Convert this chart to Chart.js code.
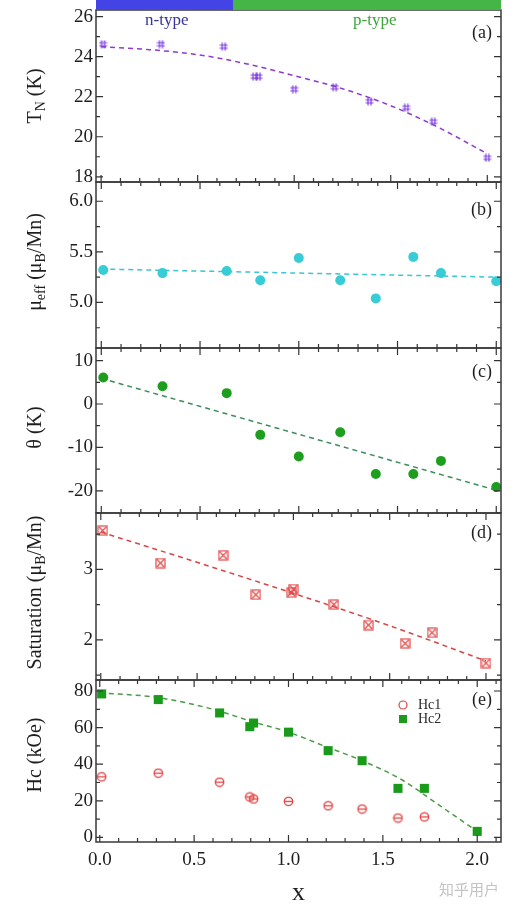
<!DOCTYPE html>
<html>
<head>
<meta charset="utf-8">
<script src="https://cdn.jsdelivr.net/npm/chart.js@4/dist/chart.umd.min.js"></script>
<style>
  html,body{margin:0;padding:0;background:#fff;}
  #wrap{position:relative;width:515px;height:906px;overflow:hidden;background:#fff;}
  #wrap canvas{position:absolute;left:0;top:0;}
  .bar{position:absolute;top:0;height:10px;}
  .lbl{position:absolute;font-family:"Liberation Serif",serif;font-size:17px;line-height:17px;white-space:nowrap;}
  .wm{position:absolute;font-family:"Noto Sans CJK SC",sans-serif;font-size:15px;line-height:18px;color:#c4c4c4;white-space:nowrap;}
</style>
</head>
<body>
<div id="wrap">
  <canvas id="ca" width="515" height="906"></canvas>
  <canvas id="cb" width="515" height="906"></canvas>
  <canvas id="cc" width="515" height="906"></canvas>
  <canvas id="cd" width="515" height="906"></canvas>
  <canvas id="ce" width="515" height="906"></canvas>
  <div class="bar" style="left:96px;width:137px;background:#4343e6;"></div>
  <div class="bar" style="left:233px;width:268px;background:#45b545;"></div>
  <div class="lbl" style="left:145px;top:11px;color:#35359e;">n-type</div>
  <div class="lbl" style="left:353px;top:11px;color:#3ba53b;">p-type</div>
  <div class="wm" style="left:439px;top:880px;">知乎用户</div>
</div>
<script>
// ---------------- data ----------------
// (a) Neel temperature
const xA   = [0.01, 0.31, 0.635, 0.795, 0.815, 1.0, 1.21, 1.39, 1.58, 1.72, 2.0];
const tN   = [24.62, 24.62, 24.5, 23.0, 23.0, 22.37, 22.47, 21.77, 21.45, 20.75, 18.95];
const fitAx = [0, 0.25, 0.5, 0.75, 1.0, 1.25, 1.5, 1.75, 2.0];
const fitAy = [24.5, 24.35, 24.1, 23.65, 23.05, 22.4, 21.55, 20.45, 19.15];
// (b) effective moment
const xB   = [0.01, 0.31, 0.635, 0.805, 1.0, 1.21, 1.39, 1.58, 1.72, 2.0];
const muEff = [5.32, 5.29, 5.31, 5.22, 5.44, 5.22, 5.04, 5.45, 5.29, 5.21];
const fitBx = [0, 2.0];
const fitBy = [5.33, 5.25];
// (c) Weiss temperature
const xC   = [0.01, 0.31, 0.635, 0.805, 1.0, 1.21, 1.39, 1.58, 1.72, 2.0];
const theta = [6.1, 4.1, 2.5, -7.1, -12.1, -6.5, -16.1, -16.1, -13.1, -19.1];
const fitCx = [0, 2.0];
const fitCy = [5.9, -19.85];
// (d) saturation moment
const xD   = [0.01, 0.31, 0.635, 0.805, 0.99, 1.0, 1.21, 1.39, 1.58, 1.72, 2.0];
const sat  = [3.55, 3.09, 3.2, 2.64, 2.67, 2.72, 2.5, 2.21, 1.95, 2.1, 1.67];
const fitDx = [0, 0.5, 1.0, 1.5, 2.0];
const fitDy = [3.53, 3.1, 2.66, 2.2, 1.70];
// (e) critical fields
const xE   = [0.01, 0.31, 0.635, 0.795, 0.815, 1.0, 1.21, 1.39, 1.58, 1.72, 2.0];
const hc1  = [33.1, 35.1, 30.2, 22.1, 21.0, 19.7, 17.3, 15.5, 10.6, 11.2, null];
const hc2  = [78.4, 75.3, 68.0, 60.5, 62.5, 57.5, 47.4, 41.9, 26.8, 26.8, 3.3];
const fitEx = [0, 0.3, 0.6, 0.8, 1.0, 1.2, 1.4, 1.6, 1.8, 2.0];
const fitEy = [79, 76.5, 70, 63.5, 57.5, 49.5, 41.5, 31.5, 17.5, 3.3];
const seriesNames = ['Hc1', 'Hc2'];
const panelLabels = ['(a)', '(b)', '(c)', '(d)', '(e)'];
const xTitle = 'x';

// ---------------- helpers ----------------
const SERIF = '"Liberation Serif", "Times New Roman", serif';
function pts(xs, ys){ const o=[]; for(let i=0;i<xs.length;i++){ if(ys[i]!==null) o.push({x:xs[i], y:ys[i]}); } return o; }

function mk(w,h,draw){ const c=document.createElement('canvas'); c.width=w; c.height=h; draw(c.getContext('2d')); return c; }
const hashMark = mk(9,9,g=>{ g.strokeStyle='#7a3ae0'; g.lineWidth=1.2; g.beginPath();
  g.moveTo(3,0.5);g.lineTo(3,8.5); g.moveTo(6,0.5);g.lineTo(6,8.5);
  g.moveTo(0.5,3);g.lineTo(8.5,3); g.moveTo(0.5,6);g.lineTo(8.5,6); g.stroke(); });
const boxX = mk(11,11,g=>{ g.strokeStyle='#e04a4a'; g.lineWidth=1.2; g.strokeRect(1,1,9,9);
  g.beginPath(); g.moveTo(2,2);g.lineTo(9,9); g.moveTo(9,2);g.lineTo(2,9); g.stroke(); });
const circBar = mk(11,11,g=>{ g.strokeStyle='#e04040'; g.lineWidth=1.3; g.beginPath(); g.arc(5.5,5.5,4.2,0,Math.PI*2); g.stroke();
  g.beginPath(); g.moveTo(1.5,5.5); g.lineTo(9.5,5.5); g.stroke(); });

function drawRich(ctx, parts, cx, cy, size){
  ctx.save();
  ctx.translate(cx, cy); ctx.rotate(-Math.PI/2);
  ctx.fillStyle = '#1e1e1e'; ctx.textBaseline = 'middle'; ctx.textAlign='left';
  let total = 0;
  parts.forEach(p=>{ ctx.font = (p.sub? Math.round(size*0.68): size) + 'px ' + SERIF; total += ctx.measureText(p.t).width; });
  let x = -total/2;
  parts.forEach(p=>{ const s = p.sub? Math.round(size*0.68): size; ctx.font = s + 'px ' + SERIF;
    ctx.fillText(p.t, x, p.sub ? size*0.28 : 0); x += ctx.measureText(p.t).width; });
  ctx.restore();
}

const panelPlugin = {
  id: 'panel',
  afterDraw(chart, args, o){
    const ctx = chart.ctx, a = chart.chartArea, xs = chart.scales.x, ys = chart.scales.y;
    ctx.save();
    ctx.strokeStyle = '#333'; ctx.lineWidth = 1.2;
    function marks(scale, major, minor, fn){
      const k0 = Math.ceil(scale.min/minor - 1e-6), k1 = Math.floor(scale.max/minor + 1e-6);
      for(let k=k0;k<=k1;k++){ const v=k*minor; const isMaj = Math.abs(v/major - Math.round(v/major)) < 1e-6;
        fn(scale.getPixelForValue(v), isMaj ? 7 : 4); }
    }
    ctx.beginPath();
    marks(ys, o.yMajor, o.yMinor, (p,l)=>{ ctx.moveTo(a.left,p); ctx.lineTo(a.left+l,p); ctx.moveTo(a.right,p); ctx.lineTo(a.right-l,p); });
    marks(xs, 0.5, 0.1, (p,l)=>{ ctx.moveTo(p,a.bottom); ctx.lineTo(p,a.bottom-l); if(o.topTicks){ ctx.moveTo(p,a.top); ctx.lineTo(p,a.top+l);} });
    ctx.stroke();
    ctx.lineWidth = 1.5; ctx.strokeStyle='#3a3a3a';
    ctx.strokeRect(a.left, a.top, a.right-a.left, a.bottom-a.top);
    ctx.fillStyle = '#1e1e1e'; ctx.font = '18px ' + SERIF; ctx.textAlign='right'; ctx.textBaseline='middle';
    ctx.fillText(o.label, a.right - 9, a.top + o.labelDy);
    drawRich(ctx, o.title, 36, (a.top+a.bottom)/2 + o.titleDy, 20);
    if (o.legend){
      ctx.font = '14px ' + SERIF; ctx.textAlign='left'; ctx.fillStyle='#2a2a2a';
      ctx.strokeStyle='#e04040'; ctx.lineWidth=1.2; ctx.beginPath(); ctx.arc(403,705,4,0,Math.PI*2); ctx.stroke();
      ctx.fillText(seriesNames[0], 418, 705);
      ctx.fillStyle='#1a9a1a'; ctx.fillRect(399,715,8,8);
      ctx.fillStyle='#2a2a2a'; ctx.fillText(seriesNames[1], 418, 719);
    }
    ctx.restore();
  }
};

function fitSet(xs, ys, color, curve){
  return {data: pts(xs, ys), showLine:true, pointRadius:0, borderColor:color, borderWidth:1.5,
          borderDash:[5,4], tension: curve?0.4:0, cubicInterpolationMode: curve?'monotone':'default', order:2};
}

function makeChart(id, p, datasets){
  const showX = !!p.showX;
  const xOpt = showX ? {
      type:'linear', min:p.xmin, max:p.xmax, position:'bottom',
      afterFit(s){ s.height = 64; s.paddingLeft=0; s.paddingRight=0; },
      grid:{display:false, drawTicks:false}, border:{display:false},
      ticks:{stepSize:0.5, includeBounds:false, padding:7, color:'#1e1e1e', font:{family:SERIF, size:19},
             callback:v=>Number(v).toFixed(1)},
      title:{display:true, text:xTitle, color:'#1e1e1e', font:{family:SERIF, size:26, lineHeight:1}, padding:{top:0,bottom:0}}
    } : {type:'linear', min:p.xmin, max:p.xmax, display:false};
  return new Chart(document.getElementById(id), {
    type:'scatter',
    data:{datasets},
    options:{
      responsive:false, animation:false, devicePixelRatio:1,
      layout:{padding:{top:p.top, bottom: showX ? 0 : 906 - p.bottom, left:0, right:14}},
      plugins:{legend:{display:false}, tooltip:{enabled:false},
        panel:{yMajor:p.yMajor, yMinor:p.yMinor, label:p.label, labelDy:p.labelDy, title:p.title, titleDy:p.titleDy, topTicks:p.topTicks, legend:p.legend}},
      scales:{
        x: xOpt,
        y:{type:'linear', min:p.ymin, max:p.ymax,
           afterFit(s){ s.width = 96; s.paddingTop=0; s.paddingBottom=0; },
           grid:{display:false, drawTicks:false}, border:{display:false},
           ticks:{stepSize:p.yMajor, includeBounds:false, padding:3, color:'#1e1e1e', font:{family:SERIF, size:19},
                  callback:v=>p.fmt(v)}}
      }
    },
    plugins:[panelPlugin]
  });
}

makeChart('ca', {top:10, bottom:182, xmin:-0.0264, xmax:2.071, ymin:17.74, ymax:26.33, yMajor:2, yMinor:1,
  fmt:v=>String(Math.round(v)), label:panelLabels[0], labelDy:23, titleDy:0, topTicks:false,
  title:[{t:'T'},{t:'N',sub:true},{t:' (K)'}]},
  [ {data:pts(xA,tN), pointStyle:hashMark, pointRadius:5, order:1},
    fitSet(fitAx, fitAy, '#8e3ad0', true) ]);
makeChart('cb', {top:182, bottom:348, xmin:-0.0268, xmax:2.024, ymin:4.55, ymax:6.19, yMajor:0.5, yMinor:0.25,
  fmt:v=>Number(v).toFixed(1), label:panelLabels[1], labelDy:28, titleDy:-3, topTicks:true,
  title:[{t:'μ'},{t:'eff',sub:true},{t:' (μ'},{t:'B',sub:true},{t:'/Mn)'}]},
  [ {data:pts(xB,muEff), pointStyle:'circle', pointRadius:5, backgroundColor:'#38ccd6', borderColor:'#38ccd6', borderWidth:0, order:1},
    fitSet(fitBx, fitBy, '#3cc4d2', false) ]);
makeChart('cc', {top:348, bottom:513, xmin:-0.0268, xmax:2.024, ymin:-25.1, ymax:12.9, yMajor:10, yMinor:5,
  fmt:v=>String(Math.round(v)), label:panelLabels[2], labelDy:24, titleDy:-3, topTicks:true,
  title:[{t:'θ (K)'}]},
  [ {data:pts(xC,theta), pointStyle:'circle', pointRadius:5, backgroundColor:'#1e9e1e', borderColor:'#1e9e1e', borderWidth:0, order:1},
    fitSet(fitCx, fitCy, '#3c8c5c', false) ]);
makeChart('cd', {top:513, bottom:680, xmin:-0.0249, xmax:2.078, ymin:1.43, ymax:3.8, yMajor:1, yMinor:0.5,
  fmt:v=>String(Math.round(v)), label:panelLabels[3], labelDy:20, titleDy:-4, topTicks:true,
  title:[{t:'Saturation (μ'},{t:'B',sub:true},{t:'/Mn)'}]},
  [ {data:pts(xD,sat), pointStyle:boxX, pointRadius:5, order:1},
    fitSet(fitDx, fitDy, '#d84545', true) ]);
makeChart('ce', {top:680, bottom:842, showX:true, xmin:-0.020, xmax:2.126, ymin:-2.5, ymax:86, yMajor:20, yMinor:10,
  fmt:v=>String(Math.round(v)), label:panelLabels[4], labelDy:20, titleDy:-6, topTicks:true, legend:true,
  title:[{t:'Hc (kOe)'}]},
  [ {data:pts(xE,hc1), pointStyle:circBar, pointRadius:5, order:1},
    {data:pts(xE,hc2), pointStyle:'rect', pointRadius:6.4, backgroundColor:'#1a9a1a', borderColor:'#1a9a1a', borderWidth:0, order:1},
    fitSet(fitEx, fitEy, '#4a9a4a', true) ]);
</script>
</body>
</html>
